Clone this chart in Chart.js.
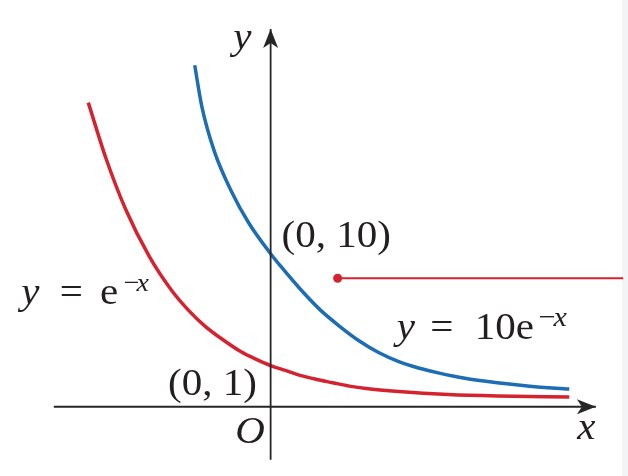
<!DOCTYPE html>
<html>
<head>
<meta charset="utf-8">
<script src="https://cdn.jsdelivr.net/npm/chart.js@4.4.1/dist/chart.umd.min.js"></script>
<style>
  html, body { margin: 0; padding: 0; background: #fff; overflow: hidden; }
  #grafico { display: block; }
</style>
</head>
<body>
<canvas id="grafico" width="628" height="476"></canvas>
<script>
// valores (unidades do gráfico, origem no ponto O)
const vermelhoX = [-18.5, -16.7, -14.7, -12.3, -10, -8.3, -6.7, -4.8, -3, -1.5, 0, 1.5, 3, 4.6, 6.3, 8, 9.7, 13, 18, 23, 30.3];
const vermelhoY = [31, 25.3, 20.1, 15.3, 11.8, 9.8, 8.25, 6.8, 5.6, 4.85, 4.2, 3.7, 3.2, 2.8, 2.45, 2.1, 1.85, 1.55, 1.25, 1.1, 1.0];

const azulX = [-7.7, -7.0, -5.7, -4.0, -2.2, 0, 1, 3, 5, 7, 9, 11, 13, 15, 17, 19.7, 23, 26.3, 30.3];
const azulY = [34.8, 30.7, 26.0, 22.0, 18.7, 15.6, 14.35, 12.0, 9.9, 8.2, 6.7, 5.5, 4.6, 3.95, 3.45, 2.9, 2.45, 2.1, 1.8];

const eixoX = [-22, 33];
const eixoY = [-5.4, 38.5];

const ponteiroX = [6.8, 35.8];
const ponteiroY = 13.1;

const corVermelha = '#d4232f';
const corAzul = '#1c6db3';
const corEixo = '#262626';
const fonte = '"Liberation Serif", "Times New Roman", serif';

function pares(xs, ys) {
  return xs.map((x, i) => ({ x: x, y: Array.isArray(ys) ? ys[i] : ys }));
}

// textos da figura: [texto, x, y, tamanho, itálico]
const textos = [
  ['y', -3.8, 36.5, 38, true],
  ['x', 31.1, -3.3, 38, true],
  ['O', -3.6, -3.7, 38, true],
  ['(0, 10)', 1.1, 16.3, 38, false],
  ['(0, 1)', -10.4, 1.2, 38, false],
  ['y', -25.3, 10.5, 38, true],
  ['=', -21.4, 10.5, 38, false],
  ['e', -17.3, 10.5, 38, false],
  ['\u2212', -14.9, 11.8, 26, false],
  ['x', -13.6, 11.8, 26, true],
  ['y', 12.8, 6.9, 38, true],
  ['=', 16.2, 6.9, 38, false],
  ['10e', 20.7, 6.9, 38, false],
  ['\u2212', 27.2, 8.2, 28, false],
  ['x', 28.7, 8.2, 28, true]
];

const fundo = {
  id: 'fundo',
  beforeDraw(chart) {
    const ctx = chart.ctx;
    ctx.save();
    ctx.fillStyle = '#ffffff';
    ctx.fillRect(0, 0, chart.width, chart.height);
    ctx.fillStyle = '#f3f4f6';
    ctx.fillRect(chart.width - 6, 0, 6, chart.height);
    ctx.restore();
  }
};

function seta(ctx, px, py, ang) {
  ctx.save();
  ctx.translate(px, py);
  ctx.rotate(ang);
  ctx.beginPath();
  ctx.moveTo(0, 0);
  ctx.lineTo(-19, -7.5);
  ctx.lineTo(-14, 0);
  ctx.lineTo(-19, 7.5);
  ctx.closePath();
  ctx.fillStyle = corEixo;
  ctx.fill();
  ctx.restore();
}

const anotacoes = {
  id: 'anotacoes',
  afterDatasetsDraw(chart) {
    const ctx = chart.ctx;
    const sx = chart.scales.x, sy = chart.scales.y;
    seta(ctx, sx.getPixelForValue(eixoX[1]), sy.getPixelForValue(0), 0);
    seta(ctx, sx.getPixelForValue(0), sy.getPixelForValue(eixoY[1]), -Math.PI / 2);
    ctx.fillStyle = '#231f20';
    ctx.textBaseline = 'alphabetic';
    ctx.textAlign = 'left';
    textos.forEach(t => {
      ctx.save();
      ctx.font = (t[4] ? 'italic ' : '') + t[3] + 'px ' + fonte;
      ctx.translate(sx.getPixelForValue(t[1]), sy.getPixelForValue(t[2]));
      ctx.scale(1.08, 1);
      ctx.fillText(t[0], 0, 0);
      ctx.restore();
    });
  }
};

new Chart(document.getElementById('grafico').getContext('2d'), {
  type: 'line',
  data: {
    datasets: [
      { data: pares(eixoX, 0), borderColor: corEixo, borderWidth: 1.8, pointRadius: 0 },
      { data: pares([0, 0], eixoY), borderColor: corEixo, borderWidth: 1.8, pointRadius: 0 },
      { data: pares(vermelhoX, vermelhoY), borderColor: corVermelha, borderWidth: 3.5, pointRadius: 0, cubicInterpolationMode: 'monotone' },
      { data: pares(azulX, azulY), borderColor: corAzul, borderWidth: 3.5, pointRadius: 0, cubicInterpolationMode: 'monotone' },
      { data: pares(ponteiroX, ponteiroY), borderColor: corVermelha, backgroundColor: corVermelha, borderWidth: 2, pointRadius: [4.5, 0], pointBorderWidth: 0 }
    ]
  },
  options: {
    responsive: false,
    animation: false,
    layout: { padding: 0 },
    scales: {
      x: { type: 'linear', min: -27, max: 35.8, display: false },
      y: { type: 'linear', min: -6.6, max: 41, display: false }
    },
    plugins: { legend: { display: false }, tooltip: { enabled: false } },
    elements: { line: { borderCapStyle: 'butt' } }
  },
  plugins: [fundo, anotacoes]
});
</script>
</body>
</html>
